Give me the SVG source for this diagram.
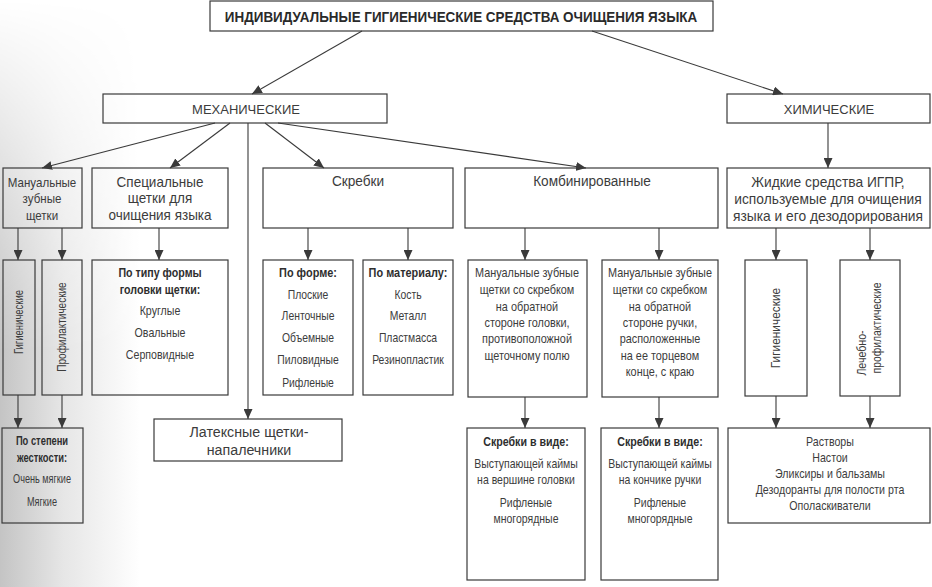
<svg xmlns="http://www.w3.org/2000/svg" width="932" height="587" viewBox="0 0 932 587">
<style>
.box{fill:none;stroke:#3a3a3a;stroke-width:1.2}
.c line{stroke:#3a3a3a;stroke-width:1.1;marker-end:url(#ah)}
text{font-family:"Liberation Sans",Arial,sans-serif;fill:#3c3c3c;text-anchor:middle}
.t{font-weight:bold;font-size:14px;fill:#2a2a2a}
.h{font-size:13px}
.m{font-size:15px}
.s{font-size:12.5px}
.b{font-size:13px;font-weight:bold;fill:#2e2e2e}
</style>
<defs>
<marker id="ah" markerWidth="10" markerHeight="9" refX="10" refY="4.5" orient="auto" markerUnits="userSpaceOnUse">
<path d="M0,0 L10,4.5 L0,9 z" fill="#3a3a3a"/>
</marker>
<linearGradient id="shade" x1="0" y1="0" x2="1" y2="0">
<stop offset="0" stop-color="#c4c4c4"/>
<stop offset="0.45" stop-color="#e6e6e6"/>
<stop offset="1" stop-color="#ffffff"/>
</linearGradient>
<linearGradient id="vfade" x1="0" y1="0" x2="0" y2="1">
<stop offset="0" stop-color="#000"/>
<stop offset="0.3" stop-color="#888"/>
<stop offset="0.6" stop-color="#fff"/>
<stop offset="1" stop-color="#fff"/>
</linearGradient>
<mask id="m1" maskUnits="userSpaceOnUse" x="0" y="0" width="140" height="587">
<rect x="0" y="0" width="140" height="587" fill="url(#vfade)"/>
</mask>
</defs>
<rect x="0" y="0" width="932" height="587" fill="#fff"/>
<rect x="0" y="0" width="140" height="587" fill="url(#shade)" mask="url(#m1)"/>

<g class="c" id="connectors">
<line x1="362" y1="31" x2="252" y2="94"/>
<line x1="592" y1="31" x2="783" y2="94"/>
<line x1="215" y1="123" x2="42" y2="168"/>
<line x1="230" y1="123" x2="170" y2="168"/>
<line x1="248" y1="123" x2="248" y2="419"/>
<line x1="265" y1="123" x2="324" y2="168"/>
<line x1="278" y1="123" x2="586" y2="168"/>
<line x1="828" y1="123" x2="828" y2="168"/>
<line x1="18" y1="228" x2="18" y2="260"/>
<line x1="62" y1="228" x2="62" y2="260"/>
<line x1="159" y1="228" x2="159" y2="260"/>
<line x1="308" y1="228" x2="308" y2="260"/>
<line x1="408" y1="228" x2="408" y2="260"/>
<line x1="525" y1="228" x2="525" y2="260"/>
<line x1="659" y1="228" x2="659" y2="260"/>
<line x1="776" y1="228" x2="776" y2="260"/>
<line x1="870" y1="228" x2="870" y2="260"/>
<line x1="18" y1="395" x2="18" y2="428"/>
<line x1="62" y1="395" x2="62" y2="428"/>
<line x1="525" y1="397" x2="525" y2="428"/>
<line x1="659" y1="397" x2="659" y2="428"/>
<line x1="776" y1="396" x2="776" y2="428"/>
<line x1="870" y1="396" x2="870" y2="428"/>
</g>

<g id="title"><rect class="box" x="210" y="1" width="503" height="30"/>
<text class="t" transform="translate(461,22) scale(0.96,1)">ИНДИВИДУАЛЬНЫЕ ГИГИЕНИЧЕСКИЕ СРЕДСТВА ОЧИЩЕНИЯ ЯЗЫКА</text></g>

<g id="mech"><rect class="box" x="103" y="94" width="284" height="29"/>
<text class="h" x="246" y="114">МЕХАНИЧЕСКИЕ</text></g>

<g id="chem"><rect class="box" x="727" y="94" width="203" height="29"/>
<text class="h" x="829" y="114">ХИМИЧЕСКИЕ</text></g>

<g id="manual"><rect class="box" x="3" y="168" width="79" height="60"/>
<text class="h" transform="translate(42,187) scale(0.89,1)">Мануальные</text>
<text class="h" transform="translate(42,203) scale(0.89,1)">зубные</text>
<text class="h" transform="translate(42,220) scale(0.89,1)">щетки</text></g>

<g id="special"><rect class="box" x="92" y="168" width="136" height="60"/>
<text class="m" transform="translate(160,187) scale(0.9,1)">Специальные</text>
<text class="m" transform="translate(160,203) scale(0.9,1)">щетки для</text>
<text class="m" transform="translate(160,220) scale(0.9,1)">очищения языка</text></g>

<g id="scrapers"><rect class="box" x="263" y="168" width="190" height="60"/>
<text class="m" transform="translate(358,186) scale(0.91,1)">Скребки</text></g>

<g id="combined"><rect class="box" x="465" y="168" width="253" height="60"/>
<text class="m" transform="translate(592,186) scale(0.91,1)">Комбинированные</text></g>

<g id="liquid"><rect class="box" x="727" y="168" width="203" height="60"/>
<text class="m" transform="translate(828,187) scale(0.92,1)">Жидкие средства ИГПР,</text>
<text class="m" transform="translate(828,204) scale(0.92,1)">используемые для очищения</text>
<text class="m" transform="translate(828,221) scale(0.92,1)">языка и его дезодорирования</text></g>

<g id="hyg-left"><rect class="box" x="3" y="260" width="32" height="135"/>
<text class="s" transform="translate(19,322) rotate(-90) scale(0.76,1)" y="4">Гигиенические</text></g>

<g id="proph-left"><rect class="box" x="42" y="260" width="40" height="135"/>
<text class="s" transform="translate(62,327) rotate(-90) scale(0.8,1)" y="4">Профилактические</text></g>

<g id="head-shape"><rect class="box" x="92" y="260" width="136" height="135"/>
<text class="b" transform="translate(160,277) scale(0.82,1)">По типу формы</text>
<text class="b" transform="translate(160,294) scale(0.82,1)">головки щетки:</text>
<text class="s" transform="translate(160,315) scale(0.85,1)">Круглые</text>
<text class="s" transform="translate(160,337) scale(0.85,1)">Овальные</text>
<text class="s" transform="translate(160,359) scale(0.85,1)">Серповидные</text></g>

<g id="by-form"><rect class="box" x="263" y="260" width="90" height="135"/>
<text class="b" transform="translate(308,277) scale(0.84,1)">По форме:</text>
<text class="s" transform="translate(308,299) scale(0.83,1)">Плоские</text>
<text class="s" transform="translate(308,320) scale(0.83,1)">Ленточные</text>
<text class="s" transform="translate(308,342) scale(0.83,1)">Объемные</text>
<text class="s" transform="translate(308,364) scale(0.83,1)">Пиловидные</text>
<text class="s" transform="translate(308,387) scale(0.83,1)">Рифленые</text></g>

<g id="by-material"><rect class="box" x="363" y="260" width="90" height="135"/>
<text class="b" transform="translate(408,277) scale(0.84,1)">По материалу:</text>
<text class="s" transform="translate(408,299) scale(0.83,1)">Кость</text>
<text class="s" transform="translate(408,320) scale(0.83,1)">Металл</text>
<text class="s" transform="translate(408,342) scale(0.83,1)">Пластмасса</text>
<text class="s" transform="translate(408,364) scale(0.83,1)">Резинопластик</text></g>

<g id="comb-head"><rect class="box" x="468" y="260" width="119" height="137"/>
<text class="s" transform="translate(527,277) scale(0.87,1)">Мануальные зубные</text>
<text class="s" transform="translate(527,294) scale(0.87,1)">щетки со скребком</text>
<text class="s" transform="translate(527,311) scale(0.87,1)">на обратной</text>
<text class="s" transform="translate(527,327) scale(0.87,1)">стороне головки,</text>
<text class="s" transform="translate(527,343) scale(0.87,1)">противоположной</text>
<text class="s" transform="translate(527,360) scale(0.87,1)">щеточному полю</text></g>

<g id="comb-handle"><rect class="box" x="602" y="260" width="116" height="137"/>
<text class="s" transform="translate(660,277) scale(0.87,1)">Мануальные зубные</text>
<text class="s" transform="translate(660,294) scale(0.87,1)">щетки со скребком</text>
<text class="s" transform="translate(660,311) scale(0.87,1)">на обратной</text>
<text class="s" transform="translate(660,327) scale(0.87,1)">стороне ручки,</text>
<text class="s" transform="translate(660,343) scale(0.87,1)">расположенные</text>
<text class="s" transform="translate(660,360) scale(0.87,1)">на ее торцевом</text>
<text class="s" transform="translate(660,376) scale(0.87,1)">конце, с краю</text></g>

<g id="hyg-right"><rect class="box" x="745" y="260" width="62" height="136"/>
<text class="s" transform="translate(776,328) rotate(-90) scale(0.95,1)" y="4">Гигиенические</text></g>

<g id="therap-right"><rect class="box" x="840" y="260" width="60" height="136"/>
<text class="s" transform="translate(862,353) rotate(-90) scale(0.85,1)" y="4">Лечебно-</text>
<text class="s" transform="translate(877,328) rotate(-90) scale(0.83,1)" y="4">профилактические</text></g>

<g id="latex"><rect class="box" x="154" y="419" width="188" height="42"/>
<text class="m" transform="translate(249,437) scale(0.95,1)">Латексные щетки-</text>
<text class="m" transform="translate(249,455) scale(0.95,1)">напалечники</text></g>

<g id="stiffness"><rect class="box" x="2" y="428" width="81" height="95"/>
<text class="b" transform="translate(42,445) scale(0.72,1)">По степени</text>
<text class="b" transform="translate(42,462) scale(0.72,1)">жесткости:</text>
<text class="s" transform="translate(42,483) scale(0.73,1)">Очень мягкие</text>
<text class="s" transform="translate(42,506) scale(0.73,1)">Мягкие</text></g>

<g id="scraper-head"><rect class="box" x="467" y="428" width="118" height="152"/>
<text class="b" transform="translate(526,446) scale(0.82,1)">Скребки в виде:</text>
<text class="s" transform="translate(526,468) scale(0.84,1)">Выступающей каймы</text>
<text class="s" transform="translate(526,484) scale(0.84,1)">на вершине головки</text>
<text class="s" transform="translate(526,507) scale(0.84,1)">Рифленые</text>
<text class="s" transform="translate(526,523) scale(0.84,1)">многорядные</text></g>

<g id="scraper-handle"><rect class="box" x="601" y="428" width="117" height="152"/>
<text class="b" transform="translate(660,446) scale(0.82,1)">Скребки в виде:</text>
<text class="s" transform="translate(660,468) scale(0.84,1)">Выступающей каймы</text>
<text class="s" transform="translate(660,484) scale(0.84,1)">на кончике ручки</text>
<text class="s" transform="translate(660,507) scale(0.84,1)">Рифленые</text>
<text class="s" transform="translate(660,523) scale(0.84,1)">многорядные</text></g>

<g id="liquids-list"><rect class="box" x="728" y="428" width="202" height="95"/>
<text class="s" transform="translate(830,446) scale(0.85,1)">Растворы</text>
<text class="s" transform="translate(830,462) scale(0.85,1)">Настои</text>
<text class="s" transform="translate(830,478) scale(0.85,1)">Эликсиры и бальзамы</text>
<text class="s" transform="translate(830,494) scale(0.85,1)">Дезодоранты для полости рта</text>
<text class="s" transform="translate(830,510) scale(0.85,1)">Ополаскиватели</text></g>
</svg>
